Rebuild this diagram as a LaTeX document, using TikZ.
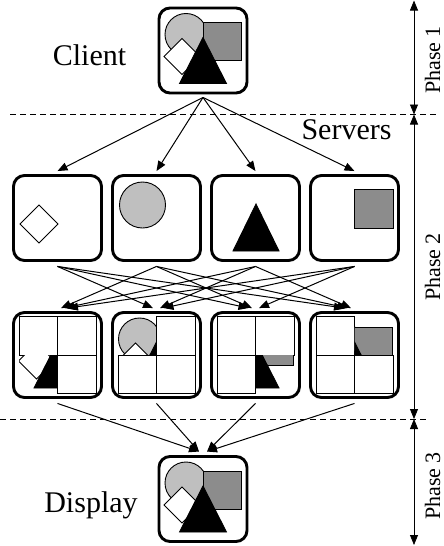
\documentclass[tikz,border=0pt]{standalone}
\usepackage{fontspec}
\setmainfont{Liberation Serif}
\usetikzlibrary{arrows.meta,positioning}
\definecolor{ltgray}{gray}{0.75}
\definecolor{dkgray}{gray}{0.55}
\tikzset{
  shp/.style={draw,line width=0.9pt},
  cell/.style={draw,fill=white,line width=0.9pt},
  pics/scene/.style={code={
    \draw[shp,fill=ltgray] (-17,-16) circle (21pt);
    \draw[shp,fill=dkgray] (0,-28) rectangle (38,10);
    \draw[shp,fill=white] (-39,6) -- (-21,-12) -- (-3,6) -- (-21,24) -- cycle;
    \draw[shp,fill=black] (0,-13) -- (23.5,33) -- (-23.5,33) -- cycle;
  }}
}

\begin{document}
\begin{tikzpicture}[x=1pt,y=-1pt,node distance=99pt,on grid,
    box/.style={draw,line width=2.9pt,rounded corners=11pt,minimum width=88pt,minimum height=85pt,inner sep=0pt},
    lbl/.style={font=\fontsize{30}{36}\selectfont,inner sep=0pt},
    phase/.style={font=\fontsize{22}{26}\selectfont,rotate=90,inner sep=0pt},
    sep/.style={dash pattern=on 6pt off 4pt,line width=0.8pt},
    link/.style={-{Triangle[length=10pt,width=8pt]},line width=1pt},
    span/.style={{Triangle[length=10pt,width=8pt]}-{Triangle[length=10pt,width=8pt]},line width=0.8pt}]
  \useasboundingbox (0,0) rectangle (444,546);

  % client, servers, compositors, display
  \node[box] (c) at (203,50.5) {};
  \node[box] (s1) at (57.5,218) {};
  \node[box] (s2) [right=of s1] {};
  \node[box] (s3) [right=of s2] {};
  \node[box] (s4) [right=of s3] {};
  \node[box] (q1) [below=137pt of s1] {};
  \node[box] (q2) [right=of q1] {};
  \node[box] (q3) [right=of q2] {};
  \node[box] (q4) [right=of q3] {};
  \node[box] (d) at (203,499) {};

  \pic at (c) {scene};
  \pic at (d) {scene};

  \begin{scope}[shift={(s1)}]
    \draw[shp,fill=white] (-37.5,6) -- (-18.5,-13) -- (0.5,6) -- (-18.5,25) -- cycle;
  \end{scope}
  \begin{scope}[shift={(s2)}]
    \draw[shp,fill=ltgray] (-14,-13) circle (23pt);
  \end{scope}
  \begin{scope}[shift={(s3)}]
    \draw[shp,fill=black] (0.5,-14) -- (23.5,33) -- (-22.5,33) -- cycle;
  \end{scope}
  \begin{scope}[shift={(s4)}]
    \draw[shp,fill=dkgray] (0,-29) rectangle (39,10);
  \end{scope}

  % one quarter of the image in each compositor
  \foreach \n/\k in {1/3,2/1,3/4,4/2}{
    \begin{scope}[shift={(q\n)}]
      \foreach \i/\x/\y in {1/-38.5/-38.5,2/0/-38.5,3/-38.5/0,4/0/0}{
        \ifnum\i=\k
          \begin{scope}
            \clip (\x,\y) rectangle ++(38.5,38.5);
            \pic {scene};
          \end{scope}
        \else
          \draw[cell] (\x,\y) rectangle ++(38.5,38.5);
        \fi
      }
    \end{scope}
  }

  \foreach \i in {1,...,4}
    \draw[link] ([yshift=-3pt]c.south) -- ([yshift=3pt]s\i.north);
  \foreach \i in {1,...,4}
    \foreach \j in {1,...,4}{
      \ifnum\i=\j\else
        \draw[link] ([yshift=-4.5pt]s\i.south) -- ([xshift={3.5*(\i-\j)},yshift=3pt]q\j.north);
      \fi
    }
  \foreach \j/\o in {1/-4,2/-4,3/4,4/4}
    \draw[link] ([yshift=-4.5pt]q\j.south) -- ([xshift=\o pt,yshift=3.5pt]d.north);

  \node[lbl,anchor=base] (client) at (89.5,65) {Client};
  \node[lbl,anchor=base] (servers) at (346.5,139) {Servers};
  \node[lbl,anchor=base] (display) at (91,512) {Display};

  % phases
  \draw[sep] (10,114.5) -- (437,114.5);
  \draw[sep] (0,419) -- (428,419);
  \coordinate (t0) at (414,0.5);
  \coordinate (t1) at (414,114.5);
  \coordinate (t2) at (414,419);
  \coordinate (t3) at (414,545);
  \draw[span] (t0) -- (t1);
  \draw[span] (t1) -- (t2);
  \draw[span] (t2) -- (t3);
  \node[phase] (ph1) at (432.5,60) {Phase 1};
  \node[phase] (ph2) at (432.5,267) {Phase 2};
  \node[phase] (ph3) at (432.5,486) {Phase 3};
\end{tikzpicture}
\end{document}
